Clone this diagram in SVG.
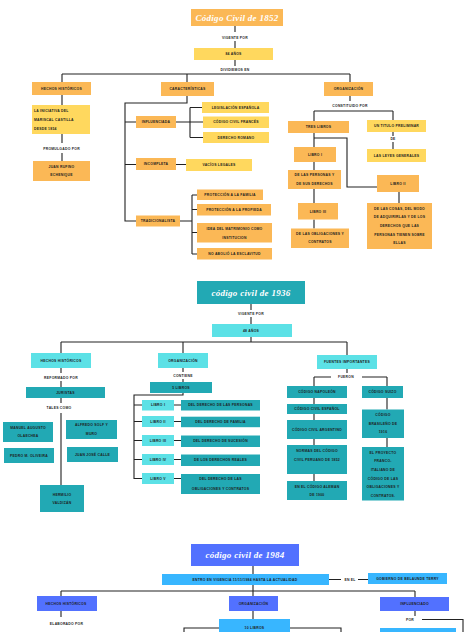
<svg xmlns="http://www.w3.org/2000/svg" width="474" height="632" viewBox="0 0 474 632">
<style>
.t{font-family:"Liberation Sans",Arial,sans-serif;font-weight:bold;font-size:3.4px;letter-spacing:0.25px;fill:#1d1d1d;text-anchor:middle}
.tl{text-anchor:start}
.ti{font-family:"Liberation Serif","Times New Roman",serif;font-style:italic;font-weight:bold;font-size:9px;fill:#ffffff;text-anchor:middle;letter-spacing:0.3px}
.ln{stroke:#222;stroke-width:1.1;fill:none}
.y{fill:#FFD85E}.o{fill:#FBB856}.dt{fill:#22A9B4}.lc{fill:#5CE1E6}.b{fill:#5271FF}.lb{fill:#38B6FF}
</style>
<rect width="474" height="632" fill="#ffffff"/>
<g id="connectors">
<path class="ln" d="M235 26V32M235 41V48M235 60V66M62 74H350M62 74V82M187 74V82M350 74V82"/>
<path class="ln" d="M62 95V105M62 134V143M62 153V161"/>
<path class="ln" d="M187 96V103H125V221H136M125 122H136M125 164.5H136M176 122H190M190 107.5V137.5M190 107.5H202M190 122H203M190 137.5H203M176 164.5H186M180 221H192M192 195V254M192 195H197M192 209.5H197M192 232.5H197M192 254H197"/>
<path class="ln" d="M350 96V101M314 111H393M314 111V121M393 111V120M393 132V136M393 142V149M314 133V147M314 138H347V187H377M314 162V170M314 189V203M314 219.5V228.5M399 192V203"/>
<path class="ln" d="M251 304V310M251 317V324M251 337V342M61 342H347M61 342V353M183 342V353M347 342V355"/>
<path class="ln" d="M61 368V373M61 381V387M61 398V403M61 413V485"/>
<path class="ln" d="M183 368V372M183 379V382M183 393V395H134V478.5H142M134 405H142M134 421.5H142M134 440.5H142M134 459.5H142M174 405H181M174 421.5H181M174 440.5H181M174 459.5H181M174 478.5H181"/>
<path class="ln" d="M347 369V373M314 377H331M362 377H387M314 377V386M387 377V386M314 398V404M314 414V420M314 439V445M314 474V481M387 398V409.5M387 438V447"/>
<path class="ln" d="M253 566V574M329 579.5H341M358 579.5H368M253 585V591M61 591H415M61 591V596M253 591V596M415 591V597M61 611V617M253 611V619M219 628H184V632M290 628H341V632M415 611V616M422 619.5H463V632"/>
</g>
<g id="labels">
<text class="t" x="235" y="38.5">VIGENTE POR</text>
<text class="t" x="235" y="71.3">DIVIDIEMOS EN</text>
<text class="t" x="61.5" y="149.9">PROMULGADO POR</text>
<text class="t" x="350" y="107.4">CONSTITUIDO POR</text>
<text class="t" x="393" y="140.3">DE</text>
<text class="t" x="251" y="315.3">VIGENTE POR</text>
<text class="t" x="61" y="379.3">REFORMADO POR</text>
<text class="t" x="59" y="409.3">TALES COMO</text>
<text class="t" x="183" y="377.3">CONTIENE</text>
<text class="t" x="346" y="378.3">FUERON</text>
<text class="t" x="350" y="580.8">EN EL</text>
<text class="t" x="66.5" y="625.3">ELABORADO POR</text>
<text class="t" x="410" y="621">POR</text>
</g>
<g id="n1_title"><rect class="o" x="191" y="9" width="92" height="17"/><text class="ti" x="237" y="20.5">Código Civil de 1852</text></g>
<g id="n1_84"><rect class="y" x="194" y="48" width="79" height="12"/><text class="t" x="233.5" y="55.2">84 AÑOS</text></g>
<g id="n1_hh"><rect class="o" x="32" y="82" width="59" height="13"/><text class="t" x="61.5" y="89.7">HECHOS HISTÓRICOS</text></g>
<g id="n1_car"><rect class="o" x="161" y="82" width="53" height="14"/><text class="t" x="187.5" y="90.2">CARACTERÍSTICAS</text></g>
<g id="n1_org"><rect class="o" x="324" y="82" width="49" height="14"/><text class="t" x="348.5" y="90.2">ORGANIZACIÓN</text></g>
<g id="n1_ini"><rect class="y" x="32" y="105" width="58" height="29"/><text class="t tl" x="34" y="111.5">LA INICIATIVA DEL</text><text class="t tl" x="34" y="120.5">MARISCAL CASTILLA</text><text class="t tl" x="34" y="129.5">DESDE 1854</text></g>
<g id="n1_jr"><rect class="o" x="33" y="161" width="57" height="20"/><text class="t" x="61.5" y="168">JUAN RUFINO</text><text class="t" x="61.5" y="175.5">ECHENIQUE</text></g>
<g id="n1_inf"><rect class="o" x="136" y="116" width="40" height="12"/><text class="t" x="156" y="123.2">INFLUENCIADA</text></g>
<g id="n1_leg"><rect class="y" x="202" y="102" width="67" height="11"/><text class="t" x="235.5" y="108.7">LEGISLACIÓN ESPAÑOLA</text></g>
<g id="n1_cf"><rect class="y" x="203" y="116.5" width="66" height="11.5"/><text class="t" x="236" y="123.4">CÓDIGO CIVIL FRANCÉS</text></g>
<g id="n1_dr"><rect class="y" x="203" y="132" width="66" height="11"/><text class="t" x="236" y="138.7">DERECHO ROMANO</text></g>
<g id="n1_inc"><rect class="o" x="136" y="158" width="40" height="12"/><text class="t" x="156" y="165.2">INCOMPLETA</text></g>
<g id="n1_vl"><rect class="y" x="186" y="159" width="66" height="12"/><text class="t" x="219" y="166.2">VACÍOS LEGALES</text></g>
<g id="n1_tra"><rect class="o" x="136" y="215.5" width="44" height="11"/><text class="t" x="158" y="222.2">TRADICIONALISTA</text></g>
<g id="n1_pf"><rect class="o" x="197" y="189.5" width="66" height="10.5"/><text class="t" x="230" y="196">PROTECCIÓN A LA FAMILIA</text></g>
<g id="n1_pp"><rect class="o" x="197" y="204" width="74" height="11.5"/><text class="t" x="234" y="211">PROTECCIÓN A LA PROPIEDA</text></g>
<g id="n1_im"><rect class="o" x="197" y="223" width="75" height="19.5"/><text class="t" x="234.5" y="230">IDEA DEL MATRIMONIO COMO</text><text class="t" x="234.5" y="238.5">INSTITUCION</text></g>
<g id="n1_ne"><rect class="o" x="197" y="248" width="75" height="11.5"/><text class="t" x="234.5" y="255">NO ABOLIÓ LA ESCLAVITUD</text></g>
<g id="n1_tl"><rect class="o" x="288" y="121" width="61" height="12"/><text class="t" x="318.5" y="128.2">TRES LIBROS</text></g>
<g id="n1_utp"><rect class="y" x="367" y="120" width="59" height="12"/><text class="t" x="396.5" y="127.2">UN TITULO PRELIMINAR</text></g>
<g id="n1_lg"><rect class="y" x="367" y="149" width="59" height="13"/><text class="t" x="396.5" y="156.7">LAS LEYES GENERALES</text></g>
<g id="n1_l1"><rect class="o" x="294" y="147" width="42" height="15"/><text class="t" x="315" y="155.7">LIBRO I</text></g>
<g id="n1_dp"><rect class="o" x="288" y="170" width="53" height="19"/><text class="t" x="314.5" y="175.5">DE LAS PERSONAS Y</text><text class="t" x="314.5" y="184.5">DE SUS DERECHOS</text></g>
<g id="n1_l3"><rect class="o" x="298" y="203" width="40" height="16.5"/><text class="t" x="318" y="212.5">LIBRO III</text></g>
<g id="n1_do"><rect class="o" x="291" y="228.5" width="58" height="19.5"/><text class="t" x="320" y="235">DE LAS OBLIGACIONES Y</text><text class="t" x="320" y="243">CONTRATOS</text></g>
<g id="n1_l2"><rect class="o" x="377" y="175" width="42" height="17"/><text class="t" x="398" y="184.7">LIBRO II</text></g>
<g id="n1_dc"><rect class="o" x="367" y="203" width="65" height="46"/><text class="t" x="399.5" y="209.5">DE LAS COSAS, DEL MODO</text><text class="t" x="399.5" y="218.3">DE ADQUIRIRLAS Y DE LOS</text><text class="t" x="399.5" y="227.3">DERECHOS QUE LAS</text><text class="t" x="399.5" y="236">PERSONAS TIENEN SOBRE</text><text class="t" x="399.5" y="244.3">ELLAS</text></g>
<g id="n2_title"><rect class="dt" x="197" y="281" width="108" height="23"/><text class="ti" x="251" y="295.5">código civil de 1936</text></g>
<g id="n2_48"><rect class="lc" x="212" y="324" width="80" height="13"/><text class="t" x="251" y="331.7">48 AÑOS</text></g>
<g id="n2_hh"><rect class="lc" x="31" y="353" width="60" height="15"/><text class="t" x="61" y="361.7">HECHOS HISTÓRICOS</text></g>
<g id="n2_org"><rect class="lc" x="158" y="353" width="50" height="15"/><text class="t" x="183" y="361.7">ORGANIZACIÓN</text></g>
<g id="n2_fi"><rect class="lc" x="317" y="355" width="60" height="14"/><text class="t" x="347" y="363.2">FUENTES IMPORTANTES</text></g>
<g id="n2_jur"><rect class="dt" x="26" y="387" width="79" height="11"/><text class="t" x="65.5" y="393.7">JURISTAS</text></g>
<g id="n2_mao"><rect class="dt" x="3" y="422" width="50" height="20"/><text class="t" x="28" y="429">MANUEL AUGUSTO</text><text class="t" x="28" y="437.3">OLAECHEA</text></g>
<g id="n2_pmo"><rect class="dt" x="4" y="448" width="50" height="15"/><text class="t" x="29" y="456.7">PEDRO M. OLIVEIRA</text></g>
<g id="n2_asm"><rect class="dt" x="66" y="420" width="51" height="19"/><text class="t" x="91.5" y="426.3">ALFREDO SOLF Y</text><text class="t" x="91.5" y="435">MURO</text></g>
<g id="n2_jjc"><rect class="dt" x="67" y="447" width="51" height="15"/><text class="t" x="92.5" y="455.7">JUAN JOSÉ CALLE</text></g>
<g id="n2_hv"><rect class="dt" x="40" y="485" width="44" height="27"/><text class="t" x="62" y="495.6">HERMILIO</text><text class="t" x="62" y="504.3">VALDIZÁN</text></g>
<g id="n2_5l"><rect class="dt" x="150" y="382" width="62" height="11"/><text class="t" x="181" y="388.7">5 LIBROS</text></g>
<g id="n2_l1"><rect class="lc" x="142" y="400" width="32" height="10.5"/><text class="t" x="158" y="406.4">LIBRO I</text></g>
<g id="n2_l2"><rect class="lc" x="142" y="416" width="32" height="11"/><text class="t" x="158" y="422.7">LIBRO II</text></g>
<g id="n2_l3"><rect class="lc" x="142" y="435" width="32" height="11"/><text class="t" x="158" y="441.7">LIBRO III</text></g>
<g id="n2_l4"><rect class="lc" x="142" y="454" width="32" height="11"/><text class="t" x="158" y="460.7">LIBRO IV</text></g>
<g id="n2_l5"><rect class="lc" x="142" y="473" width="32" height="11"/><text class="t" x="158" y="479.7">LIBRO V</text></g>
<g id="n2_d1"><rect class="dt" x="181" y="400" width="79" height="10.5"/><text class="t" x="220.5" y="406.4">DEL DERECHO DE LAS PERSONAS</text></g>
<g id="n2_d2"><rect class="dt" x="181" y="416.7" width="79" height="10.5"/><text class="t" x="220.5" y="423.1">DEL DERECHO DE FAMILIA</text></g>
<g id="n2_d3"><rect class="dt" x="181" y="435.5" width="79" height="11.5"/><text class="t" x="220.5" y="442.4">DEL DERECHO DE SUCESIÓN</text></g>
<g id="n2_d4"><rect class="dt" x="181" y="454.5" width="79" height="11.5"/><text class="t" x="220.5" y="461.4">DE LOS DERECHOS REALES</text></g>
<g id="n2_d5"><rect class="dt" x="181" y="474" width="79" height="20"/><text class="t" x="220.5" y="479.5">DEL DERECHO DE LAS</text><text class="t" x="220.5" y="489.5">OBLIGACIONES Y CONTRATOS</text></g>
<g id="n2_cn"><rect class="dt" x="287" y="386" width="60" height="12"/><text class="t" x="317" y="393.2">CÓDIGO NAPOLEÓN</text></g>
<g id="n2_cs"><rect class="dt" x="362" y="386" width="41" height="12"/><text class="t" x="382.5" y="393.2">CÓDIGO SUIZO</text></g>
<g id="n2_cce"><rect class="dt" x="287" y="404" width="60" height="10"/><text class="t" x="317" y="410.2">CÓDIGO CIVIL ESPAÑOL</text></g>
<g id="n2_cca"><rect class="dt" x="287" y="420" width="60" height="19"/><text class="t" x="317" y="430.7">CÓDIGO CIVIL ARGENTINO</text></g>
<g id="n2_ncp"><rect class="dt" x="287" y="445" width="60" height="29"/><text class="t" x="317" y="452.3">NORMAS DEL CÓDIGO</text><text class="t" x="317" y="461.3">CIVIL PERUANO DE 1852</text></g>
<g id="n2_cal"><rect class="dt" x="287" y="481" width="60" height="19"/><text class="t" x="317" y="487.6">EN EL CÓDIGO ALEMAN</text><text class="t" x="317" y="496">DE 1900</text></g>
<g id="n2_cb"><rect class="dt" x="362" y="409.5" width="42" height="28.5"/><text class="t" x="383" y="416">CÓDIGO</text><text class="t" x="383" y="424.6">BRASILEÑO DE</text><text class="t" x="383" y="433.3">1916</text></g>
<g id="n2_pfi"><rect class="dt" x="362" y="447" width="42" height="53.5"/><text class="t" x="383" y="453.6">EL PROYECTO</text><text class="t" x="383" y="462.3">FRANCO-</text><text class="t" x="383" y="471.3">ITALIANO DE</text><text class="t" x="383" y="480">CÓDIGO DE LAS</text><text class="t" x="383" y="488.3">OBLIGACIONES Y</text><text class="t" x="383" y="497">CONTRATOS.</text></g>
<g id="n3_title"><rect class="b" x="191" y="544" width="108" height="22"/><text class="ti" x="245" y="558">código civil de 1984</text></g>
<g id="n3_ev"><rect class="lb" x="162" y="574" width="167" height="11"/><text class="t" x="245" y="580.7">ENTRO EN VIGENCIA 11/11/1984 HASTA LA ACTUALIDAD</text></g>
<g id="n3_gb"><rect class="lb" x="368" y="573" width="79" height="11"/><text class="t" x="407.5" y="579.7">GOBIERNO DE BELAUNDE TERRY</text></g>
<g id="n3_hh"><rect class="b" x="37" y="596" width="60" height="15"/><text class="t" x="66" y="604.7">HECHOS HISTÓRICOS</text></g>
<g id="n3_org"><rect class="b" x="229" y="596" width="49" height="15"/><text class="t" x="253.5" y="604.7">ORGANIZACIÓN</text></g>
<g id="n3_inf"><rect class="b" x="380" y="597" width="69" height="14"/><text class="t" x="414.5" y="605.2">INFLUENCIADO</text></g>
<g id="n3_10l"><rect class="lb" x="219" y="619" width="71" height="15"/><text class="t" x="254.5" y="629">10 LIBROS</text></g>
<g id="n3_por"><rect class="lb" x="380" y="628" width="76" height="6"/></g>
</svg>
